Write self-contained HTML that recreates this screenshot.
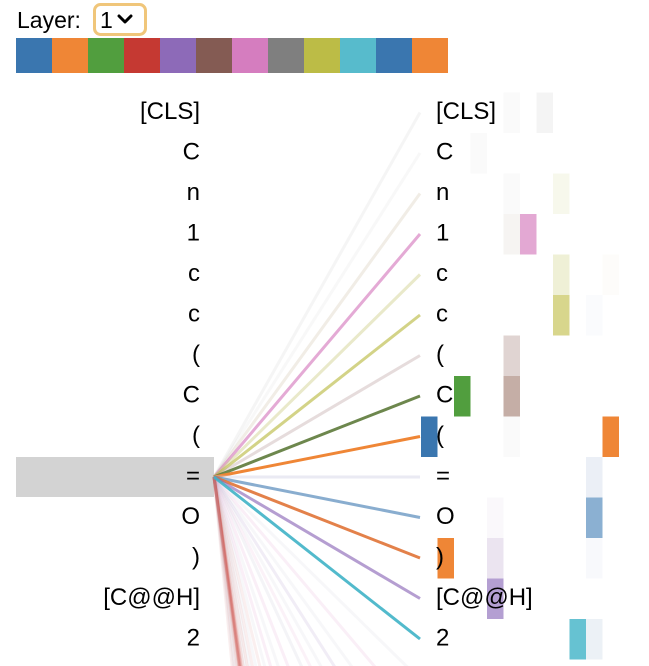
<!DOCTYPE html>
<html><head><meta charset="utf-8"><style>
html,body{margin:0;padding:0;background:#fff;width:649px;height:666px;overflow:hidden}
svg{display:block;font-family:"Liberation Sans",Arial,sans-serif}
</style></head><body>
<svg width="649" height="666" viewBox="0 0 649 666" xmlns="http://www.w3.org/2000/svg">
<text x="17" y="28" font-size="23" fill="#000">Layer:</text>
<rect x="94.5" y="4.5" width="51" height="30" rx="6" fill="#fff" stroke="#f0c67a" stroke-width="3"/>
<text x="100" y="28" font-size="23" fill="#000">1</text>
<path d="M119 16 L125 22 L131 16" fill="none" stroke="#000" stroke-width="3" stroke-linecap="round" stroke-linejoin="round"/>
<g>
<rect x="16" y="38" width="36.3" height="35" fill="#3a76af"/>
<rect x="52" y="38" width="36.3" height="35" fill="#ef8636"/>
<rect x="88" y="38" width="36.3" height="35" fill="#519e3e"/>
<rect x="124" y="38" width="36.3" height="35" fill="#c53932"/>
<rect x="160" y="38" width="36.3" height="35" fill="#8d6ab8"/>
<rect x="196" y="38" width="36.3" height="35" fill="#845b53"/>
<rect x="232" y="38" width="36.3" height="35" fill="#d57dbf"/>
<rect x="268" y="38" width="36.3" height="35" fill="#7f7f7f"/>
<rect x="304" y="38" width="36.3" height="35" fill="#bcbc46"/>
<rect x="340" y="38" width="36.3" height="35" fill="#57bbcc"/>
<rect x="376" y="38" width="36.3" height="35" fill="#3a76af"/>
<rect x="412" y="38" width="36" height="35" fill="#ef8636"/>
</g>
<rect x="16" y="457" width="198" height="40" fill="#d3d3d3"/>
<svg x="0" y="0" width="649" height="666" overflow="hidden">
<g stroke-width="3" fill="none">
<line x1="214" y1="477" x2="420" y2="679.5" stroke="#c8c8d8" stroke-opacity="0.15"/>
<line x1="214" y1="477" x2="420" y2="720" stroke="#d57dbf" stroke-opacity="0.12"/>
<line x1="214" y1="477" x2="420" y2="760.5" stroke="#c8c8d8" stroke-opacity="0.15"/>
<line x1="214" y1="477" x2="420" y2="801" stroke="#8d6ab8" stroke-opacity="0.12"/>
<line x1="214" y1="477" x2="420" y2="841.5" stroke="#c8c8d8" stroke-opacity="0.15"/>
<line x1="214" y1="477" x2="420" y2="882" stroke="#d57dbf" stroke-opacity="0.1"/>
<line x1="214" y1="477" x2="420" y2="922.5" stroke="#c8c8d8" stroke-opacity="0.2"/>
<line x1="214" y1="477" x2="420" y2="1003.5" stroke="#d57dbf" stroke-opacity="0.12"/>
<line x1="214" y1="477" x2="420" y2="1084.5" stroke="#c8c8d8" stroke-opacity="0.15"/>
<line x1="214" y1="477" x2="420" y2="1165.5" stroke="#d57dbf" stroke-opacity="0.12"/>
<line x1="214" y1="477" x2="420" y2="1246.5" stroke="#c8c8d8" stroke-opacity="0.15"/>
<line x1="214" y1="477" x2="420" y2="1327.5" stroke="#c53932" stroke-opacity="0.08"/>
<line x1="214" y1="477" x2="420" y2="1408.5" stroke="#c8c8d8" stroke-opacity="0.15"/>
<line x1="214" y1="477" x2="420" y2="1489.5" stroke="#c53932" stroke-opacity="0.08"/>
<line x1="214" y1="477" x2="420" y2="1570.5" stroke="#c8c8d8" stroke-opacity="0.15"/>
<line x1="214" y1="477" x2="420" y2="1651.5" stroke="#c53932" stroke-opacity="0.1"/>
<line x1="214" y1="477" x2="420" y2="1732.5" stroke="#c8c8d8" stroke-opacity="0.15"/>
<line x1="214" y1="477" x2="420" y2="1813.5" stroke="#c53932" stroke-opacity="0.12"/>
<line x1="214" y1="477" x2="420" y2="1894.5" stroke="#c53932" stroke-opacity="0.14"/>
<line x1="214" y1="477" x2="420" y2="1935" stroke="#c53932" stroke-opacity="0.16"/>
<line x1="214" y1="477" x2="420" y2="1975.5" stroke="#c53932" stroke-opacity="0.25"/>
<line x1="214" y1="477" x2="420" y2="2016" stroke="#c53932" stroke-opacity="0.22"/>
<line x1="214" y1="477" x2="420" y2="2056.5" stroke="#c53932" stroke-opacity="0.15"/>
<line x1="214" y1="477" x2="420" y2="2137.5" stroke="#c53932" stroke-opacity="0.12"/>
<line x1="214" y1="477" x2="420" y2="2218.5" stroke="#c8c8d8" stroke-opacity="0.15"/>
<line x1="214" y1="477" x2="420" y2="2340" stroke="#c53932" stroke-opacity="0.08"/>
<line x1="214" y1="477" x2="420" y2="2461.5" stroke="#c8c8d8" stroke-opacity="0.15"/>
<line x1="214" y1="477" x2="420" y2="2623.5" stroke="#c53932" stroke-opacity="0.08"/>

<line x1="214" y1="477" x2="420" y2="112.5" stroke="#999" stroke-opacity="0.1"/>
<line x1="214" y1="477" x2="420" y2="153" stroke="#aaa" stroke-opacity="0.08"/>
<line x1="214" y1="477" x2="420" y2="193.5" stroke="#c8b89a" stroke-opacity="0.25"/>
<line x1="214" y1="477" x2="420" y2="234" stroke="#d57dbf" stroke-opacity="0.65"/>
<line x1="214" y1="477" x2="420" y2="274.5" stroke="#cfcf8a" stroke-opacity="0.45"/>
<line x1="214" y1="477" x2="420" y2="315" stroke="#bcbc46" stroke-opacity="0.65"/>
<line x1="214" y1="477" x2="420" y2="355.5" stroke="#b79c9c" stroke-opacity="0.35"/>
<line x1="214" y1="477" x2="420" y2="396" stroke="#5d7a3a" stroke-opacity="0.9"/>
<line x1="214" y1="477" x2="420" y2="436.5" stroke="#ef8636"/>
<line x1="214" y1="477" x2="420" y2="477" stroke="#d0d0e4" stroke-opacity="0.45"/>
<line x1="214" y1="477" x2="420" y2="517.5" stroke="#3a76af" stroke-opacity="0.6"/>
<line x1="214" y1="477" x2="420" y2="558" stroke="#e07336" stroke-opacity="0.9"/>
<line x1="214" y1="477" x2="420" y2="598.5" stroke="#8d6ab8" stroke-opacity="0.65"/>
<line x1="214" y1="477" x2="420" y2="639" stroke="#3fb2c6" stroke-opacity="0.9"/>
</g>
</svg>
<g>
<rect x="503.5" y="92.5" width="16.5" height="40.5" fill="#fafafa"/>
<rect x="536.5" y="92.5" width="16.5" height="40.5" fill="#f4f4f4"/>
<rect x="470.5" y="133" width="16.5" height="40.5" fill="#fafafa"/>
<rect x="503.5" y="173.5" width="16.5" height="40.5" fill="#fafafa"/>
<rect x="553" y="173.5" width="16.5" height="40.5" fill="#f7f8ec"/>
<rect x="503.5" y="214" width="16.5" height="40.5" fill="#f6f4f2"/>
<rect x="520" y="214" width="16.5" height="40.5" fill="#e3a8d3"/>
<rect x="553" y="254.5" width="16.5" height="40.5" fill="#eff0d6"/>
<rect x="602.5" y="254.5" width="16.5" height="40.5" fill="#fdfcfa"/>
<rect x="553" y="295" width="16.5" height="40.5" fill="#d8d68c"/>
<rect x="586" y="295" width="16.5" height="40.5" fill="#fafbfd"/>
<rect x="503.5" y="335.5" width="16.5" height="40.5" fill="#e0d4d2"/>
<rect x="454" y="376" width="16.5" height="40.5" fill="#519e3e"/>
<rect x="503.5" y="376" width="16.5" height="40.5" fill="#c5aea6"/>
<rect x="421" y="416.5" width="16.5" height="40.5" fill="#3a76af"/>
<rect x="503.5" y="416.5" width="16.5" height="40.5" fill="#fafafa"/>
<rect x="602.5" y="416.5" width="16.5" height="40.5" fill="#ef8636"/>
<rect x="586" y="457" width="16.5" height="40.5" fill="#ebeff6"/>
<rect x="487" y="497.5" width="16.5" height="40.5" fill="#faf8fb"/>
<rect x="586" y="497.5" width="16.5" height="40.5" fill="#8bb0d2"/>
<rect x="437.5" y="538" width="16.5" height="40.5" fill="#ef8636"/>
<rect x="487" y="538" width="16.5" height="40.5" fill="#ebe4f0"/>
<rect x="586" y="538" width="16.5" height="40.5" fill="#f8f9fc"/>
<rect x="487" y="578.5" width="16.5" height="40.5" fill="#b49fd2"/>
<rect x="569.5" y="619" width="16.5" height="40.5" fill="#66c2d2"/>
<rect x="586" y="619" width="16.5" height="40.5" fill="#ecf1f6"/>
</g>
<g font-size="24" text-anchor="end" fill="#000">
<text x="200" y="119">[CLS]</text>
<text x="200" y="159.5">C</text>
<text x="200" y="200">n</text>
<text x="200" y="240.5">1</text>
<text x="200" y="281">c</text>
<text x="200" y="321.5">c</text>
<text x="200" y="362">(</text>
<text x="200" y="402.5">C</text>
<text x="200" y="443">(</text>
<text x="200" y="483.5">=</text>
<text x="200" y="524">O</text>
<text x="200" y="564.5">)</text>
<text x="200" y="605">[C@@H]</text>
<text x="200" y="645.5">2</text>
</g>
<g font-size="24" fill="#000">
<text x="436" y="119">[CLS]</text>
<text x="436" y="159.5">C</text>
<text x="436" y="200">n</text>
<text x="436" y="240.5">1</text>
<text x="436" y="281">c</text>
<text x="436" y="321.5">c</text>
<text x="436" y="362">(</text>
<text x="436" y="402.5">C</text>
<text x="436" y="443">(</text>
<text x="436" y="483.5">=</text>
<text x="436" y="524">O</text>
<text x="436" y="564.5">)</text>
<text x="436" y="605">[C@@H]</text>
<text x="436" y="645.5">2</text>
</g>
</svg>
</body></html>
